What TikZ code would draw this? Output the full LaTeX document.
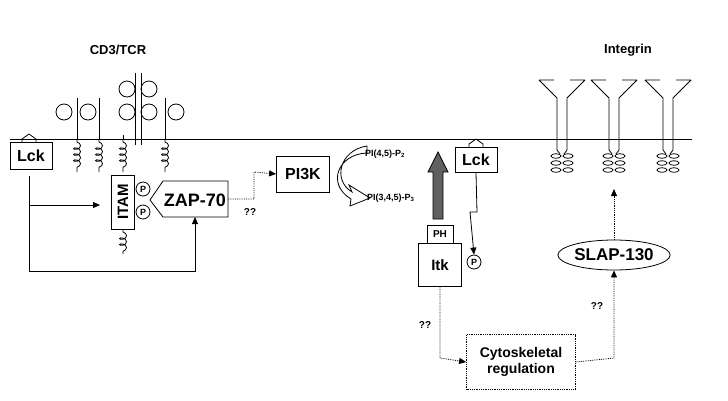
\documentclass[tikz,border=0pt]{standalone}
\usepackage{fontspec}
\setmainfont{Liberation Sans}
\usetikzlibrary{arrows.meta,shapes.geometric,decorations.pathmorphing}
\tikzset{
  box/.style={draw,thick,fill=white,inner sep=0pt,font=\bfseries},
  pcirc/.style={draw,thick,circle,minimum size=14pt,inner sep=0pt,font=\bfseries\fontsize{9}{9}\selectfont},
  coilsty/.style={thick,decorate,decoration={coil,aspect=0.6,amplitude=3.5pt,segment length=6pt,pre length=3pt,post length=2pt}},
  sig/.style={thick,-{Triangle[length=7pt,width=6pt]}},
  dsig/.style={thick,densely dotted,-{Triangle[length=7pt,width=6pt]}},
  qq/.style={font=\bfseries\fontsize{10}{10}\selectfont}
}
\newcommand{\lckhat}[2]{\draw[thick] (#1-7,#2) -- (#1-7,#2-3) -- (#1,#2-8) -- (#1+7,#2-3) -- (#1+7,#2);}
\newcommand{\integrin}[1]{
  \draw[thick] (#1-23,80) -- (#1-8,80) (#1+8,80) -- (#1+23,80)
    (#1-23,80) -- (#1-5,98) -- (#1-5,150) -- (#1-2,154)
    (#1+23,80) -- (#1+5,98) -- (#1+5,150) -- (#1+2,154);
  \foreach \yy in {156,163,170}{
    \draw[thick] (#1-6,\yy) ellipse (5pt and 2.3pt);
    \draw[thick] (#1+6,\yy) ellipse (5pt and 2.3pt);
  }
}
\begin{document}
\begin{tikzpicture}[x=1pt,y=-1pt]
\useasboundingbox (0,0) rectangle (728,400);
% membrane and titles
\draw[thick] (10,139) -- (692,139);
\node[font=\bfseries\fontsize{13}{13}\selectfont] (tcr) at (118,50) {CD3/TCR};
\node[font=\bfseries\fontsize{13}{13}\selectfont] (int) at (628,50) {Integrin};

% TCR chains
\foreach \sx/\cx in {77/64,99/88,165/176}{
  \draw[thick] (\sx,98) -- (\sx,139);
  \draw[thick] (\cx,112) circle (8pt);
}
\draw[thick] (135,73) -- (135,145) (141,73) -- (141,145);
\foreach \cx in {127,149}{
  \draw[thick] (\cx,89) circle (8pt);
  \draw[thick] (\cx,112) circle (8pt);
}
\draw[thick] (123,135) -- (123,139);
\foreach \sx in {77,99,123,165}{
  \draw[coilsty] (\sx,139) -- (\sx,172);
}
\draw[coilsty] (123,229) -- (123,254);

% left side
\lckhat{29}{142}
\node[box,minimum width=42pt,minimum height=27pt,font=\bfseries\fontsize{16}{16}\selectfont] (lck1) at (31,156) {Lck};
\node[box,minimum width=23pt,minimum height=54pt] (itam) at (123,202) {\rotatebox{90}{\fontsize{15}{15}\selectfont ITAM}};
\node[pcirc] (p1) at (143,189) {P};
\node[pcirc] (p2) at (143,212) {P};
\draw[thick] (150,200) -- (163,181) -- (228,181) -- (228,217) -- (163,217) -- cycle;
\node[font=\bfseries\fontsize{18}{18}\selectfont] (zap) at (195,200) {ZAP-70};
\coordinate (zapr) at (228,199);
\coordinate (zapb) at (195,217);
\node[box,minimum width=53pt,minimum height=36pt,font=\bfseries\fontsize{16}{16}\selectfont] (pi3k) at (303,174) {PI3K};
\draw[thick] (29,176) -- (29,271) -- (195,271) [sig] -- (zapb);
\draw[sig] (29,205) -- (100,205);
\draw[dsig] (zapr) -- (254,199) -- (254,172) -- (pi3k.west);
\node[qq] at (250,212) {??};

% lipids
\draw[thick,fill=white] (367,146) .. controls (340,150) and (332,180) .. (352,192)
  -- (349,185) -- (370,198) -- (350,206) -- (351,199)
  .. controls (326,184) and (338,154) .. (367,153) -- cycle;
\node[anchor=west,inner sep=1pt,font=\bfseries\fontsize{9}{9}\selectfont] (pip2) at (364,154) {PI(4,5)-P$_\mathbf{2}$};
\node[anchor=west,inner sep=1pt,font=\bfseries\fontsize{9}{9}\selectfont] (pip3) at (366,198) {PI(3,4,5)-P$_\mathbf{3}$};

% Itk
\draw[thick,fill=gray!75!black] (433,219) -- (433,172) -- (428,172) -- (438,152) -- (448,172) -- (443,172) -- (443,219) -- cycle;
\lckhat{476}{147}
\node[box,minimum width=42pt,minimum height=25pt,font=\bfseries\fontsize{16}{16}\selectfont] (lck2) at (476,160) {Lck};
\node[box,minimum width=26pt,minimum height=18pt,font=\bfseries\fontsize{10}{10}\selectfont] (ph) at (440,234) {PH};
\node[box,minimum width=43pt,minimum height=43pt,font=\bfseries\fontsize{15}{15}\selectfont] (itk) at (440,265) {Itk};
\node[pcirc] (p3) at (474,262) {P};
\draw[sig] (lck2.south) -- (477,212) -- (470,212) -- (p3.north);
\node[draw,thick,densely dotted,minimum width=109pt,minimum height=55pt,align=center,font=\bfseries\fontsize{14}{16}\selectfont] (cyto) at (521,362) {Cytoskeletal\\regulation};
\draw[dsig] (itk.south) -- (440,358) -- (cyto.west);
\node[qq] at (425,325) {??};
\node[draw,thick,ellipse,minimum width=110pt,minimum height=30pt,inner sep=0pt,font=\bfseries\fontsize{17}{17}\selectfont] (slap) at (614,255) {SLAP-130};
\draw[dsig] (cyto.east) -- (614,358) -- (slap.south);
\node[qq] at (597,306) {??};

% integrins
\integrin{562}
\integrin{614}
\integrin{668}
\coordinate (intb) at (614,189);
\draw[dsig] (slap.north) -- (intb);
\end{tikzpicture}
\end{document}
